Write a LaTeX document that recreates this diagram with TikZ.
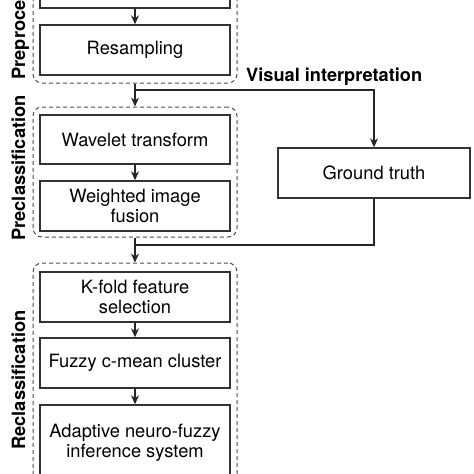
\documentclass[tikz,border=0pt]{standalone}
\usepackage{fontspec}
\setmainfont{TeX Gyre Heros}
\usetikzlibrary{arrows.meta}
\begin{document}
\begin{tikzpicture}[x=1pt,y=1pt,
  stepbox/.style={draw=black!80, line width=1.4pt, minimum width=190pt, inner sep=0pt, align=center,
    font=\fontsize{18.3}{20.5}\selectfont},
  groupbox/.style={draw=black!70, dash pattern=on 4pt off 3pt, line width=1pt, rounded corners=9pt, minimum width=204pt, inner sep=0pt},
  sidelabel/.style={rotate=90, anchor=base, inner sep=0pt, font=\fontsize{18.3}{20}\selectfont\bfseries},
  arr/.style={line width=1.2pt, draw=black!85, -{Stealth[length=9pt,width=8pt]}},
  ln/.style={line width=1.2pt, draw=black!85}]
\useasboundingbox (0,0) rectangle (474,-474);
% groups
\node[groupbox, minimum height=140pt] (pre) at (135,-13) {};
\node[groupbox, minimum height=130pt] (precl) at (135,-172) {};
\node[groupbox, minimum height=234pt] (recl) at (135,-380) {};
% boxes
\node[stepbox, minimum height=53pt] (top) at (135,18.5) {};
\node[stepbox, minimum height=50pt] (res) at (135,-50) {Resampling};
\node[stepbox, minimum height=49pt] (wav) at (135,-139.5) {Wavelet transform};
\node[stepbox, minimum height=50pt] (wif) at (135,-206) {Weighted image\\fusion};
\node[stepbox, minimum height=50pt] (kfs) at (135,-297) {K-fold feature\\selection};
\node[stepbox, minimum height=50pt] (fcm) at (135,-363) {Fuzzy c-mean cluster};
\node[stepbox, minimum height=76pt] (anf) at (135,-443) {Adaptive neuro-fuzzy\\inference system};
\node[stepbox, minimum width=192pt, minimum height=50pt] (gt) at (374,-173) {Ground truth};
% labels
\node[sidelabel] (lpre) at (25,-16) {Preprocessing};
\node[sidelabel] (lprecl) at (25,-168) {Preclassification};
\node[sidelabel] (lrecl) at (25,-380) {Reclassification};
\node[anchor=base west, inner sep=0pt, font=\fontsize{18.2}{20}\selectfont\bfseries] (vis) at (246,-81) {Visual interpretation};
% connectors
\coordinate (j1) at (135,-90);
\coordinate (j2) at (135,-245);
\draw[arr] (top) -- (res);
\draw[arr] (wav) -- (wif);
\draw[arr] (kfs) -- (fcm);
\draw[arr] (fcm) -- (anf);
\draw[arr] (pre.south) -- (precl.north);
\draw[arr] (precl.south) -- (recl.north);
\draw[arr] (j1) -| (gt.north);
\draw[ln] (gt.south) |- (j2);
\end{tikzpicture}
\end{document}
